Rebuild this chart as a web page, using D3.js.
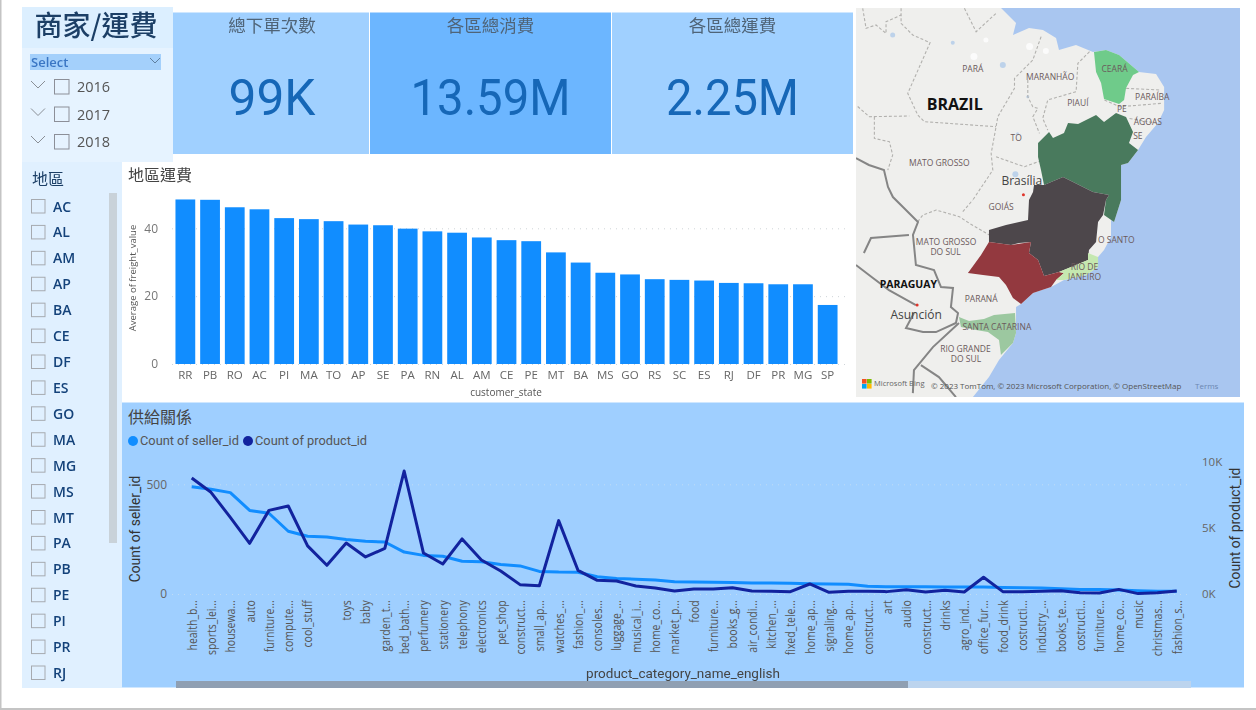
<!DOCTYPE html>
<html><head><meta charset="utf-8">
<style>
html,body{margin:0;padding:0;background:#fff;overflow:hidden}
svg{display:block;filter:blur(.35px)}
text{font-family:"Open Sans","Noto Sans CJK TC",sans-serif}
.cjk{font-family:"Noto Sans CJK TC","Noto Sans",sans-serif}
.din{font-family:Roboto,"Noto Sans",sans-serif}
</style>
<script src="https://cdn.jsdelivr.net/npm/d3@7/dist/d3.min.js"></script>
</head><body><svg id="c" width="1256" height="710"></svg>
<script>
// ---------- chart values ----------
const years = ["2016","2017","2018"];
const regions = ["AC","AL","AM","AP","BA","CE","DF","ES","GO","MA","MG","MS","MT","PA","PB","PE","PI","PR","RJ"];
const kpiTitles = ["總下單次數","各區總消費","各區總運費"];
const kpiValues = ["99K","13.59M","2.25M"];

const states = ["RR","PB","RO","AC","PI","MA","TO","AP","SE","PA","RN","AL","AM","CE","PE","MT","BA","MS","GO","RS","SC","ES","RJ","DF","PR","MG","SP"];
const freight = [48.5,48.4,46.2,45.6,43.0,42.7,42.1,41.1,40.9,39.9,39.1,38.7,37.3,36.5,36.2,32.9,29.9,26.9,26.4,25.0,24.8,24.6,23.9,23.8,23.5,23.5,17.4];
const freightTicks = [0,20,40];

const categories = ["health_b...","sports_lei...","housewa...","auto","furniture...","compute...","cool_stuff","","toys","baby","garden_t...","bed_bath...","perfumery","stationery","telephony","electronics","pet_shop","construct...","small_ap...","watches_...","fashion_...","consoles...","luggage_...","musical_i...","home_co...","market_p...","food","furniture...","books_g...","air_condi...","kitchen_...","fixed_tele...","home_ap...","signaling...","home_ap...","construct...","art","audio","construct...","drinks","agro_ind...","office_fur...","food_drink","costructi...","industry_...","books_te...","costructi...","furniture...","home_co...","music","christmas...","fashion_s..."];
const sellers = [489,477,462,381,368,286,263,260,248,240,237,191,176,172,149,147,134,128,103,100,99,79,71,67,64,56,55,53,52,50,50,49,47,46,44,35,33,33,33,32,32,32,30,29,27,24,21,20,18,15,12,12];
const products = [8810,7720,5820,3850,6350,6680,3650,2180,3870,2810,3470,9340,3110,2280,4180,2580,1750,710,630,5570,1800,1040,990,610,460,230,380,380,480,230,200,180,760,130,200,200,180,330,150,280,150,1270,180,180,200,250,100,80,350,30,100,230];
const sellerTicks = [0,500];
const productTicks = [0,5000,10000];

// ---------- map geography (lon, lat on the map sheet) ----------
const coast = [[-49.92,1.04],[-48.54,-.33],[-48.82,-1.43],[-47.35,-.79],[-46.07,-.97],[-44.87,-1.71],[-44.6,-2.81],[-43.04,-2.35],[-41.48,-2.99],[-40.29,-2.81],[-39.09,-3.27],[-37.26,-4.83],[-35.7,-5.01],[-34.96,-6.2],[-34.96,-8.31],[-35.52,-9.51],[-36.62,-10.79],[-37.35,-11.98],[-38.27,-13.18],[-38.91,-13.36],[-38.91,-16.57],[-39.55,-18.59],[-39.83,-18.41],[-39.83,-19.96],[-40.47,-21.16],[-41.02,-21.8],[-41.02,-22.72],[-42.12,-23.45],[-44.14,-23.91],[-45.33,-24.55],[-46.98,-25.1],[-48.08,-26.11],[-48.54,-26.39],[-48.54,-28.77],[-48.82,-29.69],[-50.1,-31.25],[-51.02,-32.81],[-52.49,-34.64],[-70,-40],[-70,5],[-49.92,5]];
const ceara = [[-41.39,-2.99],[-40.29,-2.81],[-39.09,-3.27],[-37.26,-4.83],[-37.81,-5.1],[-38.45,-6.3],[-38.63,-7.4],[-39.09,-7.76],[-40.47,-7.3],[-40.74,-5.84],[-41.2,-4.83]];
const bahia = [[-46.52,-11.34],[-45.51,-10.33],[-45.15,-10.88],[-44.14,-10.42],[-43.77,-9.51],[-42.85,-9.6],[-41.2,-8.77],[-40.47,-9.42],[-39.37,-8.59],[-38.45,-8.96],[-37.81,-10.33],[-38.18,-11.34],[-37.35,-11.98],[-38.27,-13.18],[-38.91,-13.36],[-38.91,-16.57],[-39.55,-18.59],[-40.47,-17.95],[-40.29,-16.57],[-40.01,-16.11],[-41.48,-15.84],[-43.31,-14.92],[-44.23,-14.46],[-45.97,-15.19],[-46.25,-13.82],[-46.52,-12.63]];
const minas = [[-46.98,-15.84],[-46.89,-15.19],[-45.97,-15.19],[-44.23,-14.46],[-43.31,-14.92],[-41.48,-15.84],[-40.01,-16.11],[-40.29,-16.57],[-40.56,-17.95],[-41.02,-18.59],[-41.2,-20.42],[-41.85,-21.16],[-41.94,-22.07],[-44.6,-23.18],[-45.97,-23.54],[-46.52,-22.07],[-47.35,-21.43],[-47.17,-20.42],[-48.27,-20.52],[-49,-20.7],[-51.02,-20.42],[-51.02,-19.32],[-49.46,-18.86],[-47.44,-18.41],[-47.35,-16.57]];
const saoPaulo = [[-51.02,-20.42],[-49,-20.7],[-47.17,-20.42],[-47.35,-21.43],[-46.52,-22.07],[-45.97,-23.54],[-44.6,-23.18],[-44.14,-23.27],[-44.87,-23.91],[-45.33,-24.55],[-46.98,-25.1],[-48.08,-26.11],[-48.82,-25.56],[-49.46,-24.37],[-50.1,-23.63],[-51.57,-23.45],[-52.95,-23.27],[-51.75,-21.62]];
const rio = [[-41.94,-21.43],[-41.02,-21.8],[-41.02,-22.72],[-42.12,-23.45],[-44.14,-23.91],[-44.87,-23.91],[-44.14,-23.27],[-44.6,-23.18],[-41.94,-22.07]];
const santaCatarina = [[-53.77,-27.3],[-52.85,-27.67],[-51.48,-27.49],[-50.56,-27.12],[-48.63,-26.94],[-48.54,-28.77],[-48.82,-29.69],[-49.92,-30.79],[-50.1,-29.41],[-51.11,-28.68],[-52.21,-28.5],[-53.59,-28.22]];
const countryBorders = [
 [[-63.22,-12.72],[-62.03,-13.36],[-60.65,-13.82],[-60.28,-15.38],[-59.83,-16.3],[-58.91,-17.21],[-57.53,-18.59],[-57.99,-19.78],[-57.72,-22.53],[-56.06,-22.99],[-55.42,-24.55],[-54.32,-24.64],[-54.51,-26.39],[-53.86,-26.94],[-54.05,-27.85],[-55.88,-28.68],[-57.07,-28.68],[-58.63,-28.31],[-57.9,-26.94]],
 [[-58.36,-19.78],[-61.84,-20.06],[-62.49,-21.43]],
 [[-63.22,-22.53],[-61.66,-23.73],[-60.19,-24.83],[-57.72,-26.2]],
 [[-53.77,-27.85],[-56.16,-30.06],[-57.9,-32.17],[-58,-34.28]],
 [[-57.26,-31.71],[-55.61,-32.81],[-54.05,-34.64]]
];
const stateBorders = [
 [[-59.08,1.01],[-59.08,-.37],[-58.01,-1.44],[-56.42,-2.14],[-58.47,-6.79],[-57.55,-8.78],[-56.94,-9.39],[-50.37,-9.85]],
 [[-62.6,1.01],[-62.29,-.83],[-61.38,-.52],[-60.46,-1.29],[-60.46,-.22],[-59.08,.39]],
 [[-63.06,-8],[-61.99,-8.93],[-58.32,-8.87]],
 [[-61.53,-8.93],[-61.53,-10.92],[-60.15,-11.23],[-59.85,-12.45],[-60.3,-13.83]],
 [[-53.27,1.01],[-52.2,-1.14],[-50.37,.55]],
 [[-46.24,-1.59],[-47,-3.73],[-48.68,-5.42],[-48.68,-6.33],[-50.21,-8.93],[-50.37,-9.85],[-50.82,-12.3],[-50.67,-13.83],[-52.51,-16.58]],
 [[-50.37,-12.6],[-48.68,-13.21],[-47.77,-13.52],[-46.08,-12.91]],
 [[-41.8,-2.97],[-42.87,-4.04],[-43.03,-6.64],[-45.63,-7.4],[-46.09,-9.09],[-45.63,-10.16]],
 [[-47.46,-5.57],[-47.46,-7.1],[-47,-8.02],[-46.54,-8.17],[-47,-8.93],[-46.39,-10.46]],
 [[-38.44,-6.33],[-35.23,-6.49]],
 [[-40.43,-7.4],[-39.05,-8.02],[-35.23,-7.71]],
 [[-38.13,-9.09],[-35.53,-9.54]],
 [[-57.55,-18.56],[-57.09,-17.95],[-55.87,-17.49],[-53.73,-18.1],[-52.81,-18.71],[-50.98,-19.78]],
 [[-53.42,-17.64],[-52.51,-16.57]]
];
const lakes = [[-59.85,-1.44,2.5],[-54.34,-2.15,2],[-49.75,-4.2,3],[-47.46,-7.1,1.5],[-48.4,-10.5,1.5],[-48.6,-14.2,3]];
const mudflats = [[-52.4,-3.4,3.5],[-51.3,-1.9,2.5],[-47.3,-2.5,3.5],[-45.8,-2.9,3]];
const placeNames = [
 ["PARÁ",-52.51,-4.56],["MARANHÃO",-45.41,-5.26],["PIAUÍ",-42.87,-7.71],["TO",-48.53,-10.92],["MATO GROSSO",-55.57,-13.15],
 ["CEARÁ",-39.51,-4.56],["PARAÍBA",-36.05,-7.16],["PE",-38.84,-8.23],["ÁGOAS",-36.45,-9.45],["SE",-37.37,-10.68],
 ["GOIÁS",-49.9,-17.24],["MATO GROSSO",-54.95,-20.39],["DO SUL",-55,-21.31],["O SANTO",-39.35,-20.2],["RIO DE",-42.26,-22.69],["JANEIRO",-42.26,-23.6],
 ["PARANÁ",-51.74,-25.65],["SANTA CATARINA",-50.3,-28.25],["RIO GRANDE",-53.18,-30.24],["DO SUL",-53.13,-31.16]
];
const countryNames = [["BRAZIL",-54.16,-7.86],["PARAGUAY",-58.41,-24.28]];
const cityNames = [["Brasília",-48.01,-14.8,-47.86,-16.1],["Asunción",-57.7,-27.12,-57.61,-26.2]];

// ---------- page ----------
const svg = d3.select("#c");
function rect(x,y,w,h,f){return svg.append("rect").attr("x",x).attr("y",y).attr("width",w).attr("height",h).attr("fill",f);}
function txt(g,x,y,s,size,col,anchor,cls,weight){return g.append("text").attr("x",x).attr("y",y).text(s).attr("font-size",size).attr("fill",col).attr("text-anchor",anchor||"start").attr("class",cls||null).attr("font-weight",weight||null);}

rect(0,0,1.5,710,"#c4c4c4");
rect(0,708,1256,2,"#c4c4c4");

// panels
rect(22,7,151,41,"#dcefff");
rect(22,48,151,114,"#e6f3ff");
rect(22,162,100,526,"#e0f0ff");
rect(30,54,131,16,"#a4d0fb");
rect(109,193,8,350,"#c9d2d9");
const kpiX = d3.scaleOrdinal().domain(kpiTitles).range([173,370,612]);
const kpiW = d3.scaleOrdinal().domain(kpiTitles).range([196,241,241]);
const kpiFill = d3.scaleOrdinal().domain(kpiTitles).range(["#a0d0ff","#6cb6ff","#a0d0ff"]);
const kpiTextW = d3.scaleOrdinal().domain(kpiValues).range([87,160,133]);
svg.append("g").selectAll("rect").data(kpiTitles).join("rect")
  .attr("x",d=>kpiX(d)).attr("y",12.5).attr("width",d=>kpiW(d)).attr("height",141.5).attr("fill",d=>kpiFill(d));
svg.append("g").selectAll("text").data(kpiTitles).join("text").attr("class","cjk")
  .attr("x",d=>kpiX(d)+kpiW(d)/2+(d===kpiTitles[0]?1:0)).attr("y",32).attr("text-anchor","middle").attr("font-size",17.5).attr("fill","#4f6478").text(d=>d);
svg.append("g").selectAll("text").data(kpiValues).join("text").attr("class","din")
  .attr("x",(d,i)=>kpiX(kpiTitles[i])+kpiW(kpiTitles[i])/2+(i===0?1:0)).attr("y",115).attr("text-anchor","middle").attr("font-size",50).attr("fill","#1667b7")
  .attr("textLength",d=>kpiTextW(d)).attr("lengthAdjust","spacingAndGlyphs").text(d=>d);

const root = svg.append("g");
txt(root,96,36,"商家/運費",28,"#1c3f66","middle","cjk",500);

// year slicer
txt(root,31,67,"Select",13,"#3a76c4","start",null,600);
root.append("path").attr("d",d3.line()([[150,58],[155,63],[160,58]])).attr("fill","none").attr("stroke","#5f7f9f").attr("stroke-width",1);
const yearY = d3.scalePoint().domain(years).range([86,141]);
const yg = svg.append("g").selectAll("g").data(years).join("g").attr("transform",d=>`translate(0,${yearY(d)})`);
yg.append("path").attr("d",d3.line()([[31,-5],[38,2],[45,-5]])).attr("fill","none").attr("stroke","#8a8f96").attr("stroke-width",1);
yg.append("rect").attr("x",54.5).attr("y",-6.5).attr("width",14.5).attr("height",14.5).attr("fill","none").attr("stroke","#8c8f98").attr("stroke-width",1);
yg.append("text").attr("x",77).attr("y",6).attr("font-size",14.5).attr("fill","#555").text(d=>d);

// region slicer
txt(root,32,185,"地區",16,"#1c3f66","start","cjk");
const regY = d3.scalePoint().domain(regions).range([206.5,673]);
const rg = svg.append("g").selectAll("g").data(regions).join("g").attr("transform",d=>`translate(0,${regY(d)})`);
rg.append("rect").attr("x",31.5).attr("y",-7).attr("width",13.5).attr("height",13.5).attr("fill","none").attr("stroke","#a6aab0").attr("stroke-width",1);
rg.append("text").attr("x",53).attr("y",5).attr("font-size",14).attr("font-weight",600).attr("fill","#14427a").text(d=>d);

// ---------- bar chart ----------
const bar = svg.append("g");
txt(bar,128,181,"地區運費",16,"#444","start","cjk");
const bx = d3.scaleBand().domain(states).range([173,840]).paddingInner(.2).paddingOuter(.1);
const by = d3.scaleLinear().domain([0,40]).range([364,228.3]);
bar.append("g").attr("transform","translate(172,0)")
  .call(d3.axisLeft(by).tickValues(freightTicks).tickSize(-676).tickPadding(14))
  .call(g=>g.select(".domain").remove())
  .call(g=>g.selectAll("line").attr("stroke","#cfd4d8").attr("stroke-dasharray","1 5"))
  .call(g=>g.selectAll("text").attr("font-size",12).attr("fill","#777").attr("font-family","Open Sans"));
bar.append("g").selectAll("rect").data(states).join("rect")
  .attr("x",d=>bx(d)).attr("width",bx.bandwidth())
  .attr("y",(d,i)=>by(freight[i])).attr("height",(d,i)=>by(0)-by(freight[i]))
  .attr("fill","#118dff");
bar.append("g").attr("transform","translate(0,364)")
  .call(d3.axisBottom(bx).tickSize(0).tickPadding(7))
  .call(g=>g.select(".domain").remove())
  .call(g=>g.selectAll("text").attr("font-size",11.5).attr("fill","#666").attr("font-family","Open Sans"));
txt(bar,506,396,"customer_state",10,"#555","middle");
txt(bar,0,0,"Average of freight_value",9.5,"#555","middle").attr("transform","translate(136,278) rotate(-90)");

// ---------- map ----------
const map = svg.append("g");
svg.append("clipPath").attr("id","mapClip").append("rect").attr("x",856.5).attr("y",8.5).attr("width",383.5).attr("height",388.5);
const mg = map.append("g").attr("clip-path","url(#mapClip)");
const k = 10.905;
const projection = d3.geoIdentity().reflectY(true).scale(k).translate([1545.35,19.3]);
const geo = d3.geoPath(projection);
const poly = r=>({type:"Polygon",coordinates:[[...r,r[0]]]});
const lineStr = r=>({type:"LineString",coordinates:r});
mg.append("rect").attr("x",856).attr("y",8).attr("width",385).attr("height",390).attr("fill","#a9c6f0");
mg.append("path").attr("d",geo(poly(coast))).attr("fill","#efefed");
mg.append("g").selectAll("circle").data(mudflats).join("circle").attr("cx",d=>projection([d[0],d[1]])[0]).attr("cy",d=>projection([d[0],d[1]])[1]).attr("r",d=>d[2]).attr("fill","#fbfbfb");
mg.append("g").selectAll("circle").data(lakes).join("circle").attr("cx",d=>projection([d[0],d[1]])[0]).attr("cy",d=>projection([d[0],d[1]])[1]).attr("r",d=>d[2]).attr("fill","#bdd2ea");
mg.append("g").selectAll("path").data(stateBorders).join("path").attr("d",d=>geo(lineStr(d))).attr("fill","none").attr("stroke","#b2b1ae").attr("stroke-width",1.1).attr("stroke-dasharray","3 2");
mg.append("g").selectAll("path").data(countryBorders).join("path").attr("d",d=>geo(lineStr(d))).attr("fill","none").attr("stroke","#858585").attr("stroke-width",2);
const regionShapes = [ceara,bahia,minas,saoPaulo,rio,santaCatarina];
const regionFill = ["#6fcb8a","#497a5d","#4d474b","#93393f","#c5e8b0","#9cc8a0"];
mg.append("g").selectAll("path").data(regionShapes).join("path").attr("d",d=>geo(poly(d))).attr("fill",(d,i)=>regionFill[i]);
mg.append("g").selectAll("text").data(placeNames).join("text").attr("x",d=>projection([d[1],d[2]])[0]).attr("y",d=>projection([d[1],d[2]])[1]+3)
  .attr("text-anchor","middle").attr("font-size",8.5).attr("fill","#6b5a5c").text(d=>d[0]);
mg.append("g").selectAll("text").data(countryNames).join("text").attr("x",d=>projection([d[1],d[2]])[0]).attr("y",d=>projection([d[1],d[2]])[1]+(d[0]==="BRAZIL"?5:4))
  .attr("text-anchor","middle").attr("font-weight",700).attr("font-size",d=>d[0]==="BRAZIL"?16:10.5).attr("fill","#111").text(d=>d[0]);
mg.append("g").selectAll("text").data(cityNames).join("text").attr("x",d=>projection([d[1],d[2]])[0]).attr("y",d=>projection([d[1],d[2]])[1]+4)
  .attr("text-anchor","middle").attr("font-size",12).attr("fill","#444").text(d=>d[0]);
mg.append("g").selectAll("circle").data(cityNames).join("circle").attr("cx",d=>projection([d[3],d[4]])[0]).attr("cy",d=>projection([d[3],d[4]])[1]).attr("r",1.5).attr("fill","#e0352b");
// Bing logo + attribution
const logoCols = ["#f25022","#7fba00","#00a4ef","#ffb900"];
mg.append("g").selectAll("rect").data(logoCols).join("rect").attr("x",(d,i)=>862+(i%2)*5).attr("y",(d,i)=>379+Math.floor(i/2)*5).attr("width",4.6).attr("height",4.6).attr("fill",d=>d);
txt(mg,874,386,"Microsoft Bing",7.5,"#666");
txt(mg,931,389,"© 2023 TomTom, © 2023 Microsoft Corporation, © OpenStreetMap",8,"#555");
txt(mg,1195,389,"Terms",8,"#6c87b0");

// ---------- line chart ----------
rect(122,402.5,1122,285,"#9fcfff");
const ln = svg.append("g");
txt(ln,128,423,"供給關係",16,"#444","start","cjk");
const idx = d3.range(categories.length);
const lx = d3.scalePoint().domain(idx).range([191.7,1176.7]);
const ly = d3.scaleLinear().domain([0,500]).range([594,484.3]);
const ry = d3.scaleLinear().domain([0,10000]).range([594,462.3]);
ln.append("g").attr("transform","translate(172,0)")
  .call(d3.axisLeft(ly).tickValues(sellerTicks).tickSize(-1018).tickPadding(5))
  .call(g=>g.select(".domain").remove())
  .call(g=>g.selectAll("line").attr("stroke","#c0dcf5").attr("stroke-dasharray","1 5"))
  .call(g=>g.selectAll("text").attr("font-size",12).attr("fill","#666").attr("font-family","Roboto"));
ln.append("g").attr("transform","translate(1190,0)")
  .call(d3.axisRight(ry).tickValues(productTicks).tickFormat(d=>d/1000+"K").tickSize(0).tickPadding(12))
  .call(g=>g.select(".domain").remove())
  .call(g=>g.selectAll("text").attr("font-size",11.5).attr("fill","#666").attr("font-family","Roboto"));
ln.append("g").attr("transform","translate(0,594)")
  .call(d3.axisBottom(lx).tickFormat(i=>categories[i]).tickSize(0))
  .call(g=>g.select(".domain").remove())
  .call(g=>g.selectAll("text").attr("font-size",12.5).attr("fill","#555").attr("font-family","Roboto")
    .attr("text-anchor","end").attr("transform","rotate(-90) scale(.84,1)").attr("x",-7.5).attr("y",0).attr("dy",".35em"));
const path = d3.line().x((d,i)=>lx(i));
ln.append("path").datum(sellers).attr("d",path.y(d=>ly(d))).attr("fill","none").attr("stroke","#118dff").attr("stroke-width",3).attr("stroke-linejoin","round");
ln.append("path").datum(products).attr("d",path.y(d=>ry(d))).attr("fill","none").attr("stroke","#12239e").attr("stroke-width",3).attr("stroke-linejoin","round");
ln.append("circle").attr("cx",133).attr("cy",441).attr("r",5).attr("fill","#118dff");
txt(ln,140,445,"Count of seller_id",12.8,"#555","start","din");
ln.append("circle").attr("cx",248).attr("cy",441).attr("r",5).attr("fill","#12239e");
txt(ln,255,445,"Count of product_id",12.8,"#555","start","din");
txt(ln,0,0,"Count of seller_id",13.8,"#333","middle","din").attr("transform","translate(140,529) rotate(-90)");
txt(ln,0,0,"Count of product_id",13.8,"#333","middle","din").attr("transform","translate(1240,528) rotate(-90)");
txt(ln,683,678,"product_category_name_english",13.5,"#444","middle","din");
rect(176,681,1015,7,"#bcd4ee");
rect(176,681,732,7,"#8f9fb2");
</script></body></html>
